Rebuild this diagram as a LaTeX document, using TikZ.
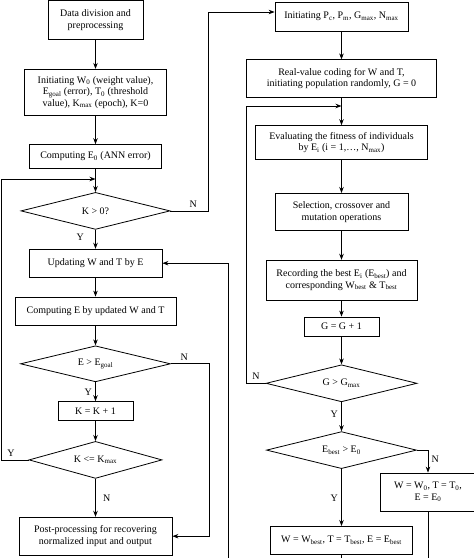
\documentclass[tikz,border=0pt]{standalone}
\usepackage{fontspec}
\setmainfont{Liberation Serif}
\usetikzlibrary{shapes.geometric, arrows.meta, positioning}
\newcommand{\sbs}[1]{\textsubscript{#1}}
\tikzset{
    block/.style={rectangle, draw=black, fill=white, text centered, align=center, font=\fontsize{10}{11.5}\selectfont, inner sep=2pt, line width=0.8pt},
    decision/.style={diamond, aspect=4, draw=black, fill=white, text centered, font=\fontsize{10}{11.5}\selectfont, inner sep=1pt, line width=0.8pt},
    arrow/.style={line width=0.8pt, ->, >={Stealth[length=6pt, width=4.5pt]}},
    yn/.style={font=\fontsize{10}{12}\selectfont}
}
\begin{document}
\begin{tikzpicture}[x=1pt, y=-1pt]
    \useasboundingbox (0,0) rectangle (474,558);

    % ANN column
    \node (data) [block, minimum width=95pt, minimum height=39pt] at (95.5,20) {Data division and\\ preprocessing};
    \node (initW) [block, below=29pt of data, minimum width=142pt, minimum height=46pt] {Initiating W\sbs{0} (weight value),\\ E\sbs{goal} (error), T\sbs{0} (threshold\\ value), K\sbs{max} (epoch), K=0};
    \node (compE0) [block, below=28.5pt of initW, minimum width=132pt, minimum height=24pt] {Computing E\sbs{0} (ANN error)};
    \node (K0) [decision, below=23pt of compE0, minimum width=149pt, minimum height=37pt] {K > 0?};
    \node (upd) [block, below=19pt of K0, minimum width=133pt, minimum height=28pt] {Updating W and T by E};
    \node (compE) [block, below=19pt of upd, minimum width=161pt, minimum height=28pt] {Computing E by updated W and T};
    \node (EgtEg) [decision, below=20pt of compE, minimum width=150pt, minimum height=36pt] {E > E\sbs{goal}};
    \node (Kinc) [block, below=19pt of EgtEg, minimum width=75pt, minimum height=19pt] {K = K + 1};
    \node (KleK) [decision, below=20pt of Kinc, minimum width=133pt, minimum height=37pt] {K <= K\sbs{max}};
    \node (post) [block, below=38pt of KleK, minimum width=153pt, minimum height=38pt] {Post-processing for recovering\\ normalized input and output};

    % GA column
    \node (initP) [block, minimum width=133pt, minimum height=29pt] at (341.5,16.5) {Initiating P\sbs{c}, P\sbs{m}, G\sbs{max}, N\sbs{max}};
    \node (real) [block, below=28pt of initP, minimum width=190pt, minimum height=38pt] {Real-value coding for W and T,\\ initiating population randomly, G = 0};
    \node (eval) [block, below=27pt of real, minimum width=172pt, minimum height=34pt] {Evaluating the fitness of individuals\\ by E\sbs{i} (i = 1,\dots, N\sbs{max})};
    \node (sel) [block, below=33pt of eval, minimum width=133pt, minimum height=37pt] {Selection, crossover and\\ mutation operations};
    \node (rec) [block, below=29pt of sel, minimum width=151pt, minimum height=40pt] {Recording the best E\sbs{i} (E\sbs{best}) and\\ corresponding W\sbs{best} \& T\sbs{best}};
    \node (Ginc) [block, below=16pt of rec, minimum width=75pt, minimum height=19pt] {G = G + 1};
    \node (GgtG) [decision, below=28pt of Ginc, minimum width=151pt, minimum height=37pt] {G > G\sbs{max}};
    \node (EbE0) [decision, below=29pt of GgtG, minimum width=150pt, minimum height=37pt] {E\sbs{best} > E\sbs{0}};
    \node (Wbest) [block, below=57pt of EbE0, minimum width=142pt, minimum height=28pt] {W = W\sbs{best}, T = T\sbs{best}, E = E\sbs{best}};
    \node (W0) [block, minimum width=96pt, minimum height=38pt] at (428,492) {W = W\sbs{0}, T = T\sbs{0},\\ E = E\sbs{0}};

    \coordinate (j1) at (95.5,179);
    \coordinate (j2) at (341.5,106);
    \coordinate (cutA) at (341.5,562);
    \coordinate (cutB) at (428,562);
    \coordinate (cutC) at (228,562);

    \draw [arrow] (data) -- (initW);
    \draw [arrow] (initW) -- (compE0);
    \draw [arrow] (compE0) -- (K0);
    \draw [arrow] (KleK.west) -- ++(-27,0) node[yn, above, pos=0.65] {Y} |- (j1);
    \draw [arrow] (K0.east) -- ++(38,0) node[yn, above, pos=0.6] {N} |- ([yshift=4.5pt]initP.west);
    \draw [arrow] (K0) -- node[yn, left=8pt, pos=0.4] {Y} (upd);
    \draw [arrow] (upd) -- (compE);
    \draw [arrow] (compE) -- (EgtEg);
    \draw [arrow] (EgtEg.east) -- ++(38,0) node[yn, above, pos=0.35] {N} |- (post.east);
    \draw [arrow] (EgtEg) -- node[yn, left, pos=0.55] {Y} (Kinc);
    \draw [arrow] (Kinc) -- (KleK);
    \draw [arrow] (KleK) -- node[yn, right=4pt, pos=0.5] {N} (post);
    \draw [arrow] (cutC) |- (upd.east);

    \draw [arrow] (initP) -- (real);
    \draw [arrow] (real) -- (eval);
    \draw [arrow] (eval) -- (sel);
    \draw [arrow] (sel) -- (rec);
    \draw [arrow] (rec) -- (Ginc);
    \draw [arrow] (Ginc) -- (GgtG);
    \draw [arrow] (GgtG.west) -- ++(-19,0) node[yn, above, pos=0.5] {N} |- (j2);
    \draw [arrow] (GgtG) -- node[yn, left, pos=0.4] {Y} (EbE0);
    \draw [arrow] (EbE0.east) -| node[yn, right, pos=0.7] {N} (W0.north);
    \draw [arrow] (EbE0) -- node[yn, left, pos=0.52] {Y} (Wbest);
    \draw [line width=0.8pt] (Wbest) -- (cutA);
    \draw [line width=0.8pt] (W0) -- (cutB);
\end{tikzpicture}
\end{document}
